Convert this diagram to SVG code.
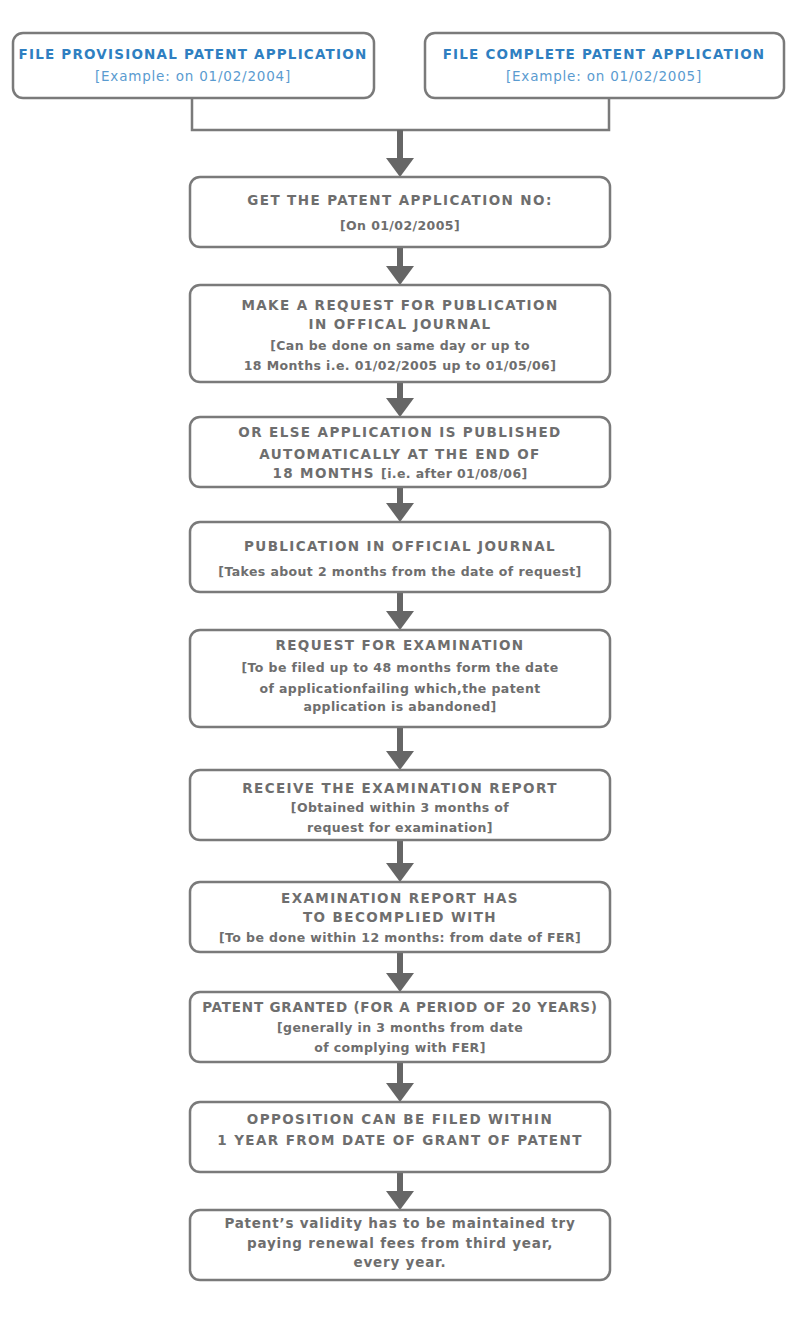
<svg xmlns="http://www.w3.org/2000/svg" width="800" height="1322" viewBox="0 0 800 1322">
<style>
.b{fill:#fff;stroke:#7a7a7a;stroke-width:2.5}
text{font-family:"DejaVu Sans",Verdana,sans-serif;font-weight:bold;font-size:13.5px;letter-spacing:1.4px;fill:#6e6e6e;text-anchor:middle}
.h{fill:#2f7fc1;letter-spacing:1.2px}
.s{fill:#5a9bd0;font-weight:normal;letter-spacing:0.8px}
.t{font-size:12.5px;letter-spacing:0.4px}
.v{letter-spacing:0.8px}
.c{stroke:#666;stroke-width:6;fill:none}
.l{stroke:#7a7a7a;stroke-width:2.5;fill:none}
</style>
<g id="connectors">
<path class="l" d="M192,98 V130 H609 V98"/>
<line class="c" x1="400" y1="130" x2="400" y2="160"/><path d="M386,158 H414 L400,177Z" fill="#666"/>
<line class="c" x1="400" y1="247" x2="400" y2="268"/><path d="M386,266 H414 L400,285Z" fill="#666"/>
<line class="c" x1="400" y1="382" x2="400" y2="400"/><path d="M386,398 H414 L400,417Z" fill="#666"/>
<line class="c" x1="400" y1="487" x2="400" y2="505"/><path d="M386,503 H414 L400,522Z" fill="#666"/>
<line class="c" x1="400" y1="592" x2="400" y2="613"/><path d="M386,611 H414 L400,630Z" fill="#666"/>
<line class="c" x1="400" y1="727" x2="400" y2="753"/><path d="M386,751 H414 L400,770Z" fill="#666"/>
<line class="c" x1="400" y1="840" x2="400" y2="865"/><path d="M386,863 H414 L400,882Z" fill="#666"/>
<line class="c" x1="400" y1="952" x2="400" y2="975"/><path d="M386,973 H414 L400,992Z" fill="#666"/>
<line class="c" x1="400" y1="1062" x2="400" y2="1085"/><path d="M386,1083 H414 L400,1102Z" fill="#666"/>
<line class="c" x1="400" y1="1172" x2="400" y2="1193"/><path d="M386,1191 H414 L400,1210Z" fill="#666"/>
</g>
<g id="n0"><rect class="b" x="13" y="33" width="361" height="65" rx="10"/><text class="h" x="193" y="59">FILE PROVISIONAL PATENT APPLICATION</text><text class="s" x="193" y="81">[Example: on 01/02/2004]</text></g>
<g id="n0b"><rect class="b" x="425" y="33" width="359" height="65" rx="10"/><text class="h" x="604" y="59">FILE COMPLETE PATENT APPLICATION</text><text class="s" x="604" y="81">[Example: on 01/02/2005]</text></g>
<g id="n1"><rect class="b" x="190" y="177" width="420" height="70" rx="10"/><text x="400" y="205">GET THE PATENT APPLICATION NO:</text><text class="t" x="400" y="230">[On 01/02/2005]</text></g>
<g id="n2"><rect class="b" x="190" y="285" width="420" height="97" rx="10"/><text x="400" y="310">MAKE A REQUEST FOR PUBLICATION</text><text x="400" y="329">IN OFFICAL JOURNAL</text><text class="t" x="400" y="350">[Can be done on same day or up to</text><text class="t" x="400" y="370">18 Months i.e. 01/02/2005 up to 01/05/06]</text></g>
<g id="n3"><rect class="b" x="190" y="417" width="420" height="70" rx="10"/><text x="400" y="437">OR ELSE APPLICATION IS PUBLISHED</text><text x="400" y="459">AUTOMATICALLY AT THE END OF</text><text x="400" y="478">18 MONTHS <tspan class="t">[i.e. after 01/08/06]</tspan></text></g>
<g id="n4"><rect class="b" x="190" y="522" width="420" height="70" rx="10"/><text x="400" y="551">PUBLICATION IN OFFICIAL JOURNAL</text><text class="t" x="400" y="576">[Takes about 2 months from the date of request]</text></g>
<g id="n5"><rect class="b" x="190" y="630" width="420" height="97" rx="10"/><text x="400" y="650">REQUEST FOR EXAMINATION</text><text class="t" x="400" y="672">[To be filed up to 48 months form the date</text><text class="t" x="400" y="693">of applicationfailing which,the patent</text><text class="t" x="400" y="711">application is abandoned]</text></g>
<g id="n6"><rect class="b" x="190" y="770" width="420" height="70" rx="10"/><text x="400" y="793">RECEIVE THE EXAMINATION REPORT</text><text class="t" x="400" y="812">[Obtained within 3 months of</text><text class="t" x="400" y="832">request for examination]</text></g>
<g id="n7"><rect class="b" x="190" y="882" width="420" height="70" rx="10"/><text x="400" y="903">EXAMINATION REPORT HAS</text><text x="400" y="922">TO BECOMPLIED WITH</text><text class="t" x="400" y="942">[To be done within 12 months: from date of FER]</text></g>
<g id="n8"><rect class="b" x="190" y="992" width="420" height="70" rx="10"/><text class="v" x="400" y="1012">PATENT GRANTED (FOR A PERIOD OF 20 YEARS)</text><text class="t" x="400" y="1032">[generally in 3 months from date</text><text class="t" x="400" y="1052">of complying with FER]</text></g>
<g id="n9"><rect class="b" x="190" y="1102" width="420" height="70" rx="10"/><text x="400" y="1124">OPPOSITION CAN BE FILED WITHIN</text><text x="400" y="1145">1 YEAR FROM DATE OF GRANT OF PATENT</text></g>
<g id="n10"><rect class="b" x="190" y="1210" width="420" height="70" rx="10"/><text class="v" x="400" y="1228">Patent’s validity has to be maintained try</text><text class="v" x="400" y="1248">paying renewal fees from third year,</text><text class="v" x="400" y="1267">every year.</text></g>
</svg>
